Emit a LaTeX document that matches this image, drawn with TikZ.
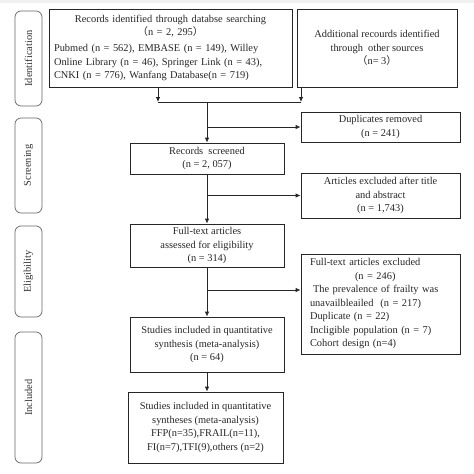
\documentclass[tikz,border=0pt]{standalone}
\usepackage{fontspec}
\setmainfont{Liberation Serif}
\newfontfamily\cjk{Noto Sans CJK SC}
\usetikzlibrary{arrows.meta}
\begin{document}
\begin{tikzpicture}[x=1pt,y=-1pt,
  box/.style={draw=black!85,line width=0.8pt,inner sep=0pt,
    font=\fontsize{10.4}{13.5}\selectfont,text=black!85},
  stage/.style={draw=black!60,line width=0.7pt,rounded corners=6pt,
    minimum width=27pt,inner sep=0pt,font=\fontsize{10.4}{12}\selectfont,
    text=black!80},
  flow/.style={-{Latex[length=5pt,width=4.5pt]},line width=0.8pt,black!85}]
\useasboundingbox (0,0) rectangle (474,474);
\fill[gray!12] (0,0) rectangle (474,3);
%\draw[step=10pt,gray,very thin] (0,0) grid (474,474);
% stage labels
\node[stage,minimum height=95pt] (ident) at (28.5,58.5) {\rotatebox{90}{Identification}};
\node[stage,minimum height=95pt] (screen) at (28.5,165.5) {\rotatebox{90}{Screening}};
\node[stage,minimum height=91pt] (elig) at (28.5,271.5) {\rotatebox{90}{Eligibility}};
\node[stage,minimum height=131pt] (incl) at (28.5,397.5) {\rotatebox{90}{Included}};
% boxes
\node[box,minimum width=243pt,minimum height=78pt,text width=233pt,align=left] (records) at (170.5,48)
  {\makebox[233pt]{Records identified through databse searching}\\
   \makebox[233pt]{{\cjk（}n = 2, 295{\cjk）}}\\[2.5pt]
   Pubmed (n = 562), EMBASE (n = 149), Willey\\
   Online Library (n = 46), Springer Link (n = 43),\\
   CNKI (n = 776), Wanfang Database(n = 719)};
\node[box,minimum width=160pt,minimum height=78pt,align=center] (additional) at (377,48)
  {Additional recourds identified\\ through~ other sources\\ {\cjk（}n= 3{\cjk）}};
\node[box,minimum width=159pt,minimum height=30pt,align=center] (duplicates) at (380.5,127)
  {Duplicates removed\\ (n = 241)};
\node[box,minimum width=154pt,minimum height=31pt,align=center] (screened) at (207,158.5)
  {Records~ screened\\ (n = 2, 057)};
\node[box,minimum width=159pt,minimum height=45pt,align=center] (excl1) at (380.5,195.5)
  {Articles excluded after title\\ and abstract\\ (n = 1,743)};
\node[box,minimum width=154pt,minimum height=43pt,align=center] (fulltext) at (207,245.5)
  {Full-text articles\\ assessed for eligibility\\ (n = 314)};
\node[box,minimum width=159pt,minimum height=100pt,text width=141pt,align=left] (excl2) at (380.5,304)
  {Full-text articles excluded\\
   \hspace*{45pt}(n = 246)\\
   \hspace*{3pt}The prevalence of frailty was\\
   unavailbleailed~ (n = 217)\\
   Duplicate (n = 22)\\
   Incligible population (n = 7)\\
   Cohort design (n=4)};
\node[box,minimum width=154pt,minimum height=55pt,align=center] (studies1) at (207,344.5)
  {Studies included in quantitative\\ synthesis (meta-analysis)\\ (n = 64)};
\node[box,minimum width=155pt,minimum height=71pt,align=center] (studies2) at (205.5,427.5)
  {Studies included in quantitative\\ syntheses (meta-analysis)\\ FFP(n=35),FRAIL(n=11),\\ FI(n=7),TFI(9),others (n=2)};
% connectors
\coordinate (j1) at (158,102);
\coordinate (j2) at (301,102);
\coordinate (j0) at (207,102);
\coordinate (b3) at (207,290);
\draw[flow] (records.south -| j1) -- (j1);
\draw[flow] (additional.south -| j2) -- (j2);
\draw[line width=0.8pt,black!85] (j1) -- (j2);
\draw[flow] (j0) -- (screened.north);
\draw[flow] (j0 |- duplicates) -- (duplicates.west);
\draw[flow] (screened) -- (fulltext);
\draw[flow] (screened.south |- excl1) -- (excl1.west);
\draw[flow] (fulltext) -- (studies1);
\draw[flow] (b3) -- (b3 -| excl2.west);
\draw[flow] (studies1.south) -- (studies1.south |- studies2.north);
\end{tikzpicture}
\end{document}
